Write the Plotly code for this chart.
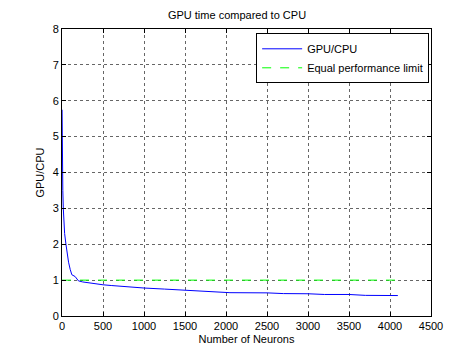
import plotly.graph_objects as go

neurons = [1, 2, 3, 4, 5, 6, 8, 10, 16, 24, 32, 48, 64, 80, 100, 120, 160, 200, 250, 300, 400, 500,
           600, 750, 1000, 1250, 1500, 1800, 2048, 2500, 2700, 3000, 3200, 3500, 3700, 4096]
ratio = [5.75, 4.0, 5.6, 4.05, 5.2, 4.0, 3.8, 3.5, 3.0, 2.6, 2.3, 2.0, 1.7, 1.5, 1.3, 1.15, 1.1, 0.98, 0.95, 0.93, 0.9, 0.87,
         0.85, 0.82, 0.78, 0.75, 0.72, 0.68, 0.65, 0.645, 0.625, 0.62, 0.60, 0.60, 0.575, 0.57]
limit_x = [0, 4096]
limit_y = [1, 1]

x_ticks = [0, 500, 1000, 1500, 2000, 2500, 3000, 3500, 4000, 4500]
y_ticks = [0, 1, 2, 3, 4, 5, 6, 7, 8]

font = dict(family="Liberation Sans, Arial, sans-serif", size=11, color="black")

fig = go.Figure()
fig.add_trace(go.Scatter(x=neurons, y=ratio, mode="lines", name="GPU/CPU",
                         line=dict(color="#0000ff", width=1)))
fig.add_trace(go.Scatter(x=limit_x, y=limit_y, mode="lines", name="Equal performance limit",
                         line=dict(color="#00ff00", width=1, dash="dash")))

axis_common = dict(showline=True, linecolor="black", linewidth=1, mirror="ticks",
                   ticks="inside", ticklen=4, tickcolor="black",
                   showgrid=True, gridcolor="rgba(0,0,0,0.6)", griddash="dot", gridwidth=1,
                   zeroline=False, tickfont=font, automargin=False)

fig.update_layout(
    width=474, height=355,
    margin=dict(l=62, r=43, t=29, b=39),
    paper_bgcolor="white", plot_bgcolor="white",
    font=font,
    title=dict(text="GPU time compared to CPU", x=0.5, xanchor="center", y=0.958, yanchor="middle",
               font=dict(family="Liberation Sans, Arial, sans-serif", size=11, color="black")),
    xaxis=dict(range=[0, 4500], tickvals=x_ticks, title=dict(text="Number of Neurons", standoff=4, font=font),
               **axis_common),
    yaxis=dict(range=[0, 8], tickvals=y_ticks, title=dict(text="GPU/CPU", standoff=5, font=font),
               **axis_common),
    legend=dict(x=0.995, y=0.985, xanchor="right", yanchor="top", bgcolor="white",
                bordercolor="black", borderwidth=1, font=font, tracegroupgap=0,
                itemwidth=40),
    showlegend=True,
)

fig.write_html("out.html", config={"displayModeBar": False},
               post_script="document.body.style.margin='0';document.body.style.overflow='hidden';")
